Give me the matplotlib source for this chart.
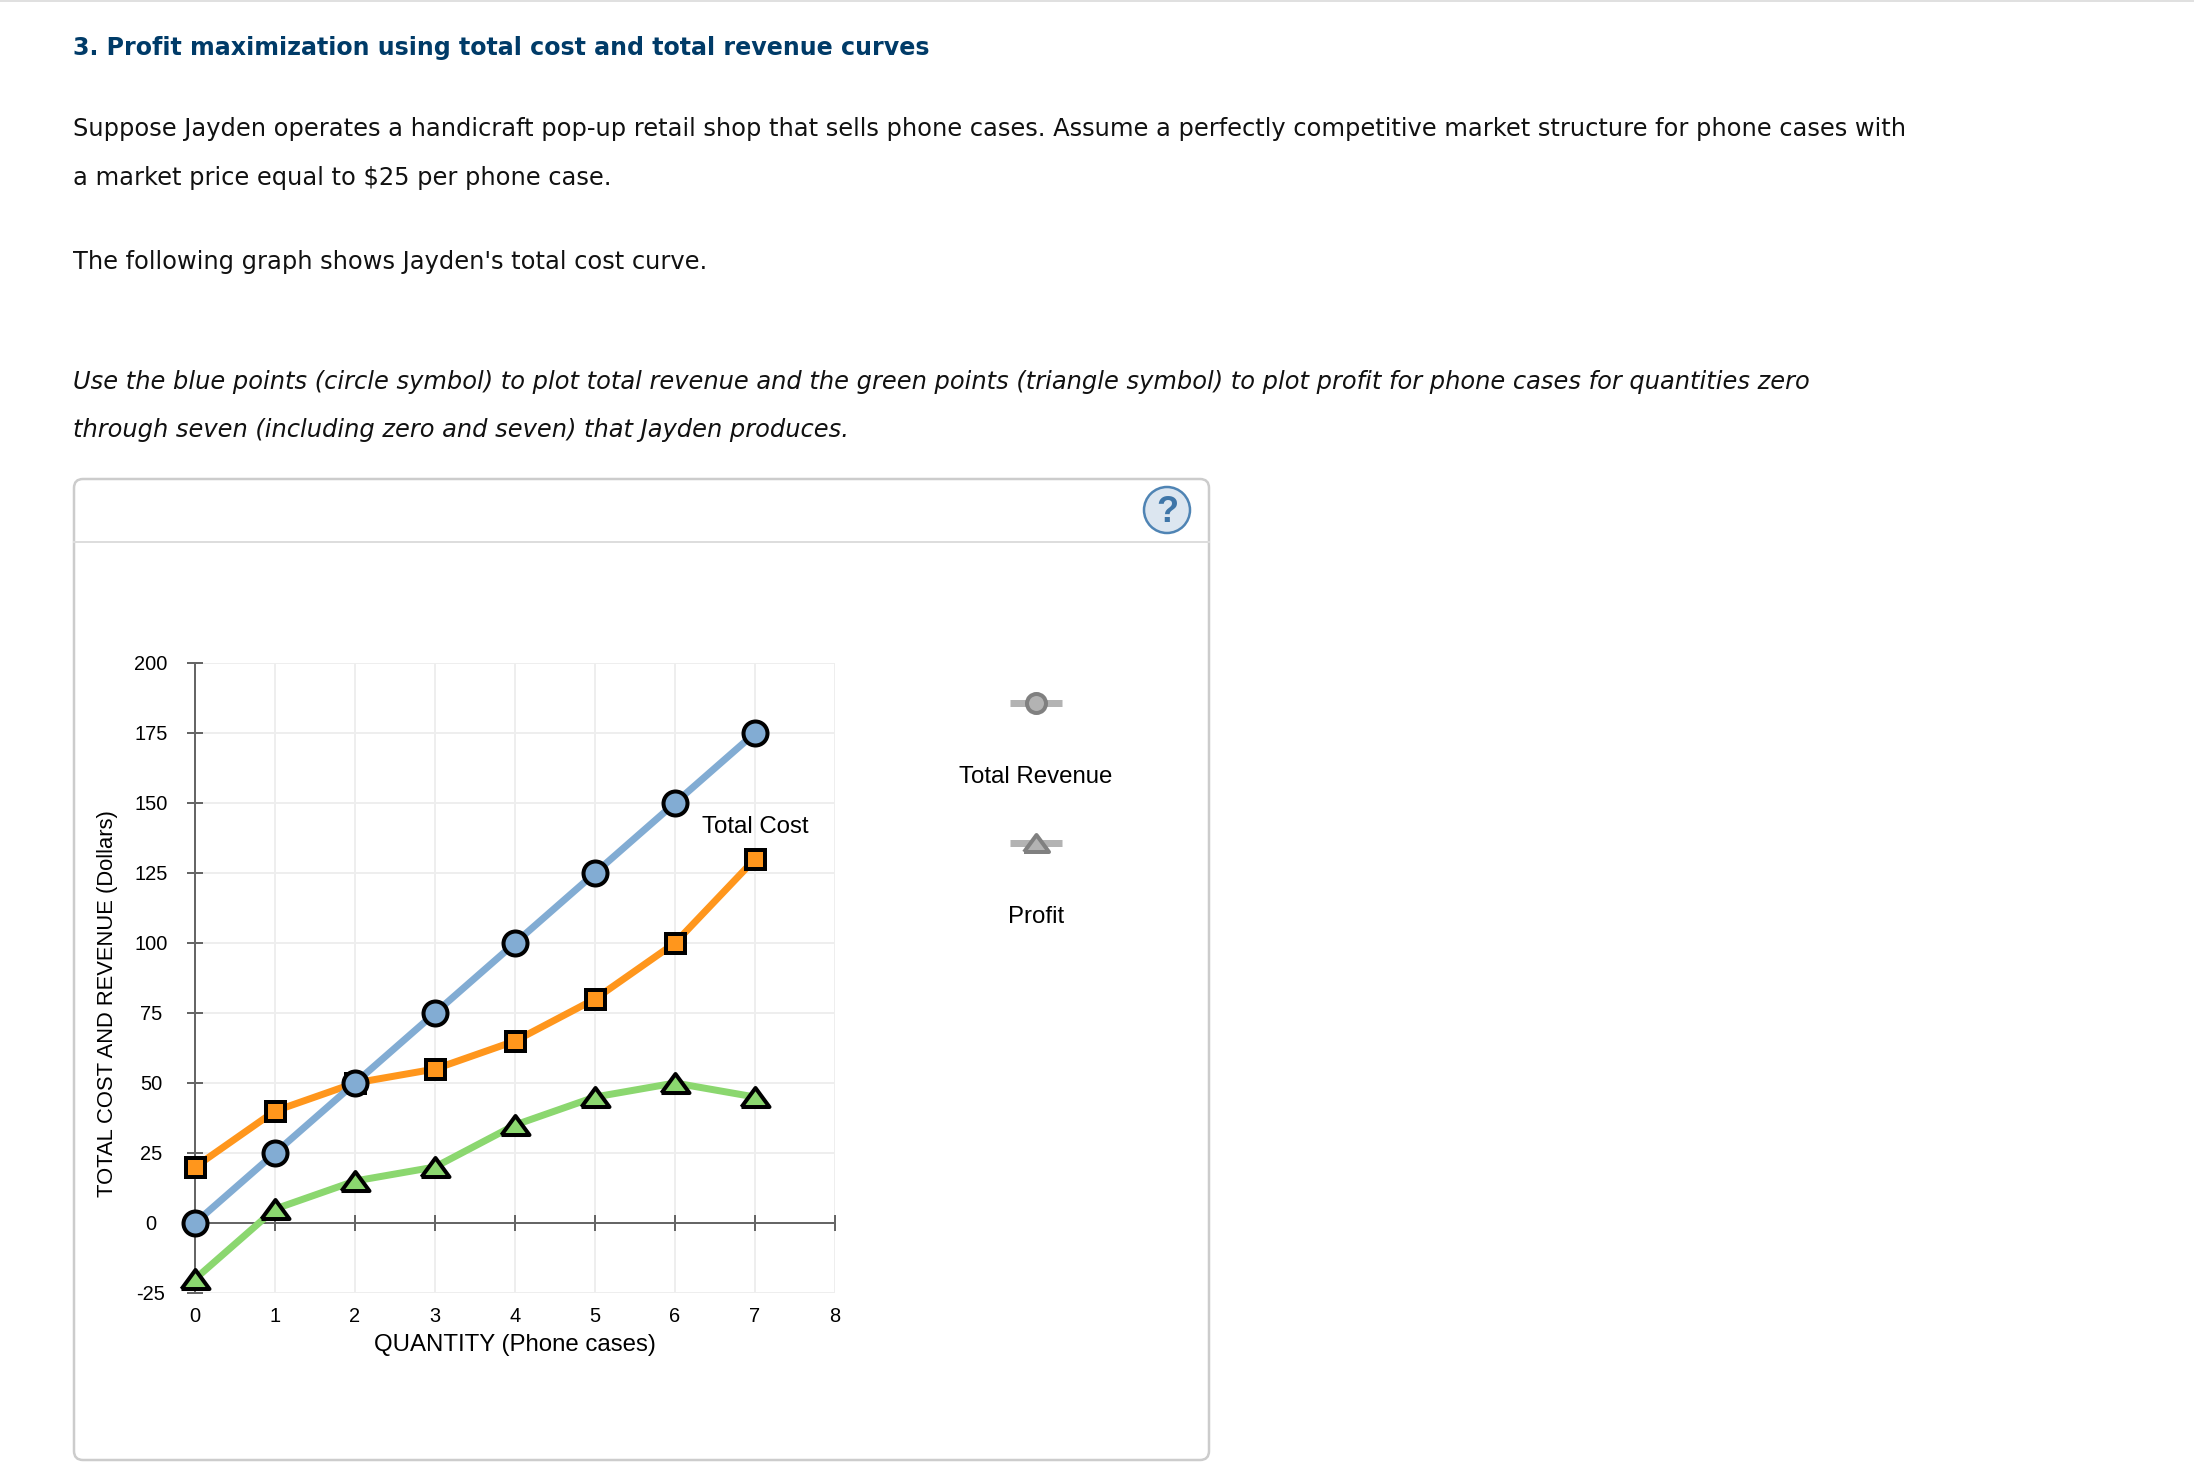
import matplotlib
matplotlib.use("Agg")
import matplotlib.pyplot as plt
from matplotlib.markers import MarkerStyle
from matplotlib.patches import FancyBboxPatch, Circle

W, H = 2194, 1473
quantity = [0, 1, 2, 3, 4, 5, 6, 7]
total_revenue = [0, 25, 50, 75, 100, 125, 150, 175]
total_cost = [20, 40, 50, 55, 65, 80, 100, 130]
profit = [-20, 5, 15, 20, 35, 45, 50, 45]
x_ticks = [0, 1, 2, 3, 4, 5, 6, 7, 8]
y_ticks = [-25, 0, 25, 50, 75, 100, 125, 150, 175, 200]

title = "3. Profit maximization using total cost and total revenue curves"
body = [
    ("Suppose Jayden operates a handicraft pop-up retail shop that sells phone cases. Assume a perfectly competitive market structure for phone cases with", 129, "normal"),
    ("a market price equal to $25 per phone case.", 178, "normal"),
    ("The following graph shows Jayden's total cost curve.", 261.5, "normal"),
    ("Use the blue points (circle symbol) to plot total revenue and the green points (triangle symbol) to plot profit for phone cases for quantities zero", 382.5, "italic"),
    ("through seven (including zero and seven) that Jayden produces.", 429.5, "italic"),
]

px = 72 / 100
fig = plt.figure(figsize=(W / 100, H / 100), dpi=100, facecolor="white")
bg = fig.add_axes([0, 0, 1, 1])
bg.set_xlim(0, W)
bg.set_ylim(H, 0)
bg.axis("off")

bg.plot([0, W], [0.5, 0.5], color="#e0e0e0", lw=2 * px)
bg.text(73, 47.5, title, fontsize=17.12, fontweight="bold", color="#003b68", family="DejaVu Sans", va="center")
for line, y, style in body:
    bg.text(73, y, line, fontsize=17.34, style=style, color="#111111", family="DejaVu Sans", va="center")

bg.add_patch(FancyBboxPatch((74, 479), 1135, 981, boxstyle="round,pad=0,rounding_size=9",
                            fc="white", ec="#cccccc", lw=2.5 * px))
bg.plot([74, 1209], [542, 542], color="#dddddd", lw=2 * px)
bg.add_patch(Circle((1167, 510), 23, fc="#dce6f0", ec="#4f84b4", lw=2.5 * px))
bg.text(1167, 512, "?", fontsize=26, fontweight="bold", color="#3f76a8", family="Liberation Sans", ha="center", va="center")

ARIAL = "Liberation Sans"
tri = [(-1, -0.68), (1, -0.68), (0, 0.68), (-1, -0.68)]
tri_marker = MarkerStyle(tri, joinstyle="miter")
# legend entries
bg.plot([1010, 1062], [703, 703], color="#b3b3b3", lw=7 * px, solid_capstyle="butt")
bg.plot([1036], [703], marker="o", ms=19 * px, mfc="#b3b3b3", mec="#808080", mew=4 * px)
bg.text(1036, 777, "Total Revenue", fontsize=17.3, family=ARIAL, ha="center", va="center", color="black")
bg.plot([1010, 1062], [843, 843], color="#b3b3b3", lw=7 * px, solid_capstyle="butt")
bg.plot([1036], [843], marker=tri_marker, ms=25 * px, mfc="#b3b3b3", mec="#808080", mew=4 * px, ls="none")
bg.text(1036, 917, "Profit", fontsize=17.3, family=ARIAL, ha="center", va="center", color="black")

L, R, T, B = 195, 835, 663, 1293
ax = fig.add_axes([L / W, 1 - B / H, (R - L) / W, (B - T) / H], facecolor="none")
ax.set_xlim(0, 8)
ax.set_ylim(-25, 200)
for s in ("top", "right"):
    ax.spines[s].set_visible(False)
ax.spines["left"].set_position(("data", 0))
ax.spines["bottom"].set_position(("data", 0))
for s in ("left", "bottom"):
    ax.spines[s].set_color("#666666")
    ax.spines[s].set_linewidth(2 * px)
ax.grid(True, color="#eeeeee", lw=2 * px)
ax.set_axisbelow(True)
ax.set_xticks(x_ticks)
ax.set_yticks(y_ticks)
ax.set_xticklabels([str(v) for v in x_ticks], fontsize=14.4, family=ARIAL)
ax.set_yticklabels([str(v) for v in y_ticks], fontsize=14.4, family=ARIAL, ha="center")
ax.tick_params(axis="x", direction="inout", length=16 * px, width=2 * px, color="#666666", pad=76.5 * px)
ax.tick_params(axis="y", direction="inout", length=16 * px, width=2 * px, color="#666666", pad=36 * px)
ax.set_xlabel("QUANTITY (Phone cases)", fontsize=17.3, family=ARIAL)
ax.set_ylabel("TOTAL COST AND REVENUE (Dollars)", fontsize=15.8, family=ARIAL)
ax.xaxis.set_label_coords(0.5, -(1345 - B) / (B - T), ax.transAxes)
ax.xaxis.label.set_va("center")
ax.yaxis.set_label_coords(-(L - 97) / (R - L), (B - 1004) / (B - T), ax.transAxes)
ax.yaxis.label.set_va("top")


def curve(y, color, marker, ms, z):
    ax.plot(quantity, y, color=color, lw=7 * px, marker=marker, ms=ms * px, mfc=color,
            mec="black", mew=4 * px, clip_on=False, zorder=z, solid_joinstyle="round")


curve(total_cost, "#ff961c", "s", 19, 4)
curve(profit, "#8bd76f", tri_marker, 28, 5)
curve(total_revenue, "#82acd3", "o", 24, 6)
ax.text(7, 141.3, "Total Cost", fontsize=17.3, family=ARIAL, ha="center", va="center", color="black", zorder=7)

fig.savefig("out.png", dpi=100, facecolor="white")
